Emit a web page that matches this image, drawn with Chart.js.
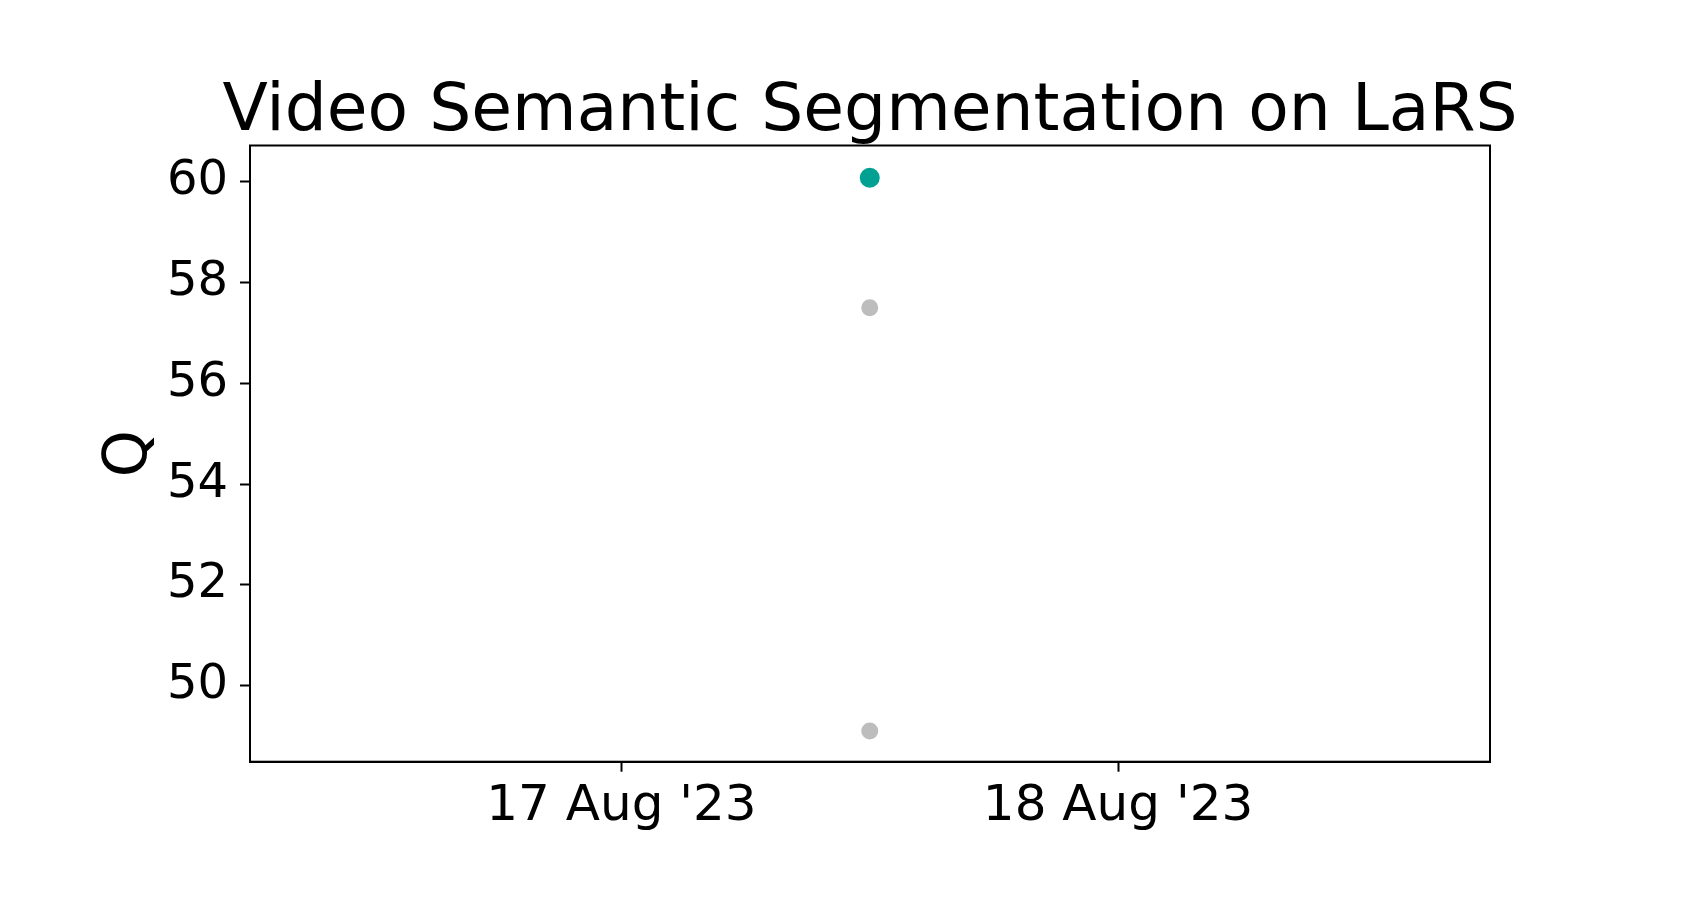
<!DOCTYPE html>
<html>
<head>
<meta charset="utf-8">
<script src="https://cdn.jsdelivr.net/npm/chart.js@4/dist/chart.umd.min.js"></script>
<style>
  html, body { margin: 0; padding: 0; background: #ffffff; }
  #wrap { width: 1700px; height: 900px; }
</style>
</head>
<body>
<div id="wrap"><canvas id="c" width="1700" height="900"></canvas></div>
<script>
// ---- data (x = day of August 2023) ----
const chartTitle = "Video Semantic Segmentation on LaRS";
const yAxisLabel = "Q";
const tickDays = [17, 18];
const tickLabels = ["17 Aug '23", "18 Aug '23"];
const yTicks = [50, 52, 54, 56, 58, 60];
const bestDays = [17.5];
const bestValues = [60.08];
const otherDays = [17.5, 17.5];
const otherValues = [57.5, 49.1];
const xRange = [16.252, 18.749];
const yRange = [48.49, 60.72];

const toPoints = (xs, ys) => xs.map((x, i) => ({ x: x, y: ys[i] }));

const FONT = "'DejaVu Sans', sans-serif";

// frame (top/right spines) and the title centred over the plot area
const framePlugin = {
  id: 'frame',
  afterDraw(chart) {
    const a = chart.chartArea, ctx = chart.ctx;
    ctx.save();
    ctx.strokeStyle = '#000';
    ctx.lineWidth = 2;
    ctx.strokeRect(a.left, a.top, a.right - a.left, a.bottom - a.top);
    ctx.fillStyle = '#000';
    ctx.font = "66.3px " + FONT;
    ctx.textAlign = 'center';
    ctx.textBaseline = 'alphabetic';
    ctx.fillText(chartTitle, (a.left + a.right) / 2, a.top - 15.5);
    ctx.restore();
  }
};

new Chart(document.getElementById('c'), {
  type: 'scatter',
  data: {
    datasets: [
      {
        label: 'other',
        data: toPoints(otherDays, otherValues),
        backgroundColor: '#bdbdbd',
        borderColor: '#bdbdbd',
        pointRadius: 8.5,
        pointHoverRadius: 8.5,
        borderWidth: 0,
        order: 2
      },
      {
        label: 'best',
        data: toPoints(bestDays, bestValues),
        backgroundColor: '#00a193',
        borderColor: '#00a193',
        pointRadius: 10,
        pointHoverRadius: 10,
        borderWidth: 0,
        order: 1
      }
    ]
  },
  options: {
    responsive: false,
    animation: false,
    events: [],
    layout: { padding: { left: 94, right: 210, top: 145.5, bottom: 0 } },
    plugins: {
      legend: { display: false },
      tooltip: { enabled: false },
      title: { display: false }
    },
    scales: {
      x: {
        type: 'linear',
        min: xRange[0],
        max: xRange[1],
        afterFit(scale) { scale.height = 900 - 145.5 - 616.2; },
        afterBuildTicks(scale) { scale.ticks = tickDays.map(v => ({ value: v })); },
        ticks: {
          color: '#000',
          font: { family: FONT, size: 50 },
          padding: 5,
          maxRotation: 0,
          autoSkip: false,
          callback: (v) => {
            const i = tickDays.indexOf(v);
            return i >= 0 ? tickLabels[i] : '';
          }
        },
        grid: { display: true, drawOnChartArea: false, drawTicks: true, tickLength: 10, tickWidth: 2, tickColor: '#000', color: '#000' },
        border: { display: true, color: '#000', width: 2 }
      },
      y: {
        type: 'linear',
        min: yRange[0],
        max: yRange[1],
        afterFit(scale) { scale.width = 250 - 94; },
        afterBuildTicks(scale) { scale.ticks = yTicks.map(v => ({ value: v })); },
        title: {
          display: true,
          text: yAxisLabel,
          color: '#000',
          font: { family: FONT, size: 60, lineHeight: 1.2 },
          padding: { top: 0, bottom: 0 }
        },
        ticks: {
          color: '#000',
          font: { family: FONT, size: 48 },
          padding: 12,
          autoSkip: false,
          callback: (v) => String(v)
        },
        grid: { display: true, drawOnChartArea: false, drawTicks: true, tickLength: 10, tickWidth: 2, tickColor: '#000', color: '#000' },
        border: { display: true, color: '#000', width: 2 }
      }
    }
  },
  plugins: [framePlugin]
});
</script>
</body>
</html>
